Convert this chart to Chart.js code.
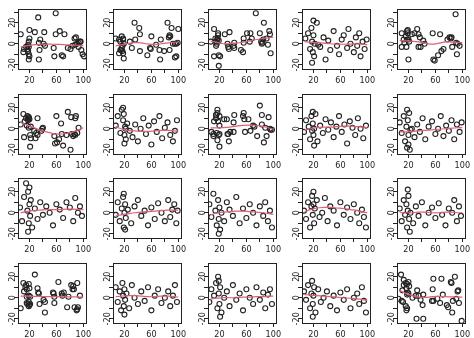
<!DOCTYPE html>
<html lang="en">
<head>
<meta charset="UTF-8">
<title>Scatter grid</title>
<script src="https://cdn.jsdelivr.net/npm/chart.js"></script>
<style>
  body { margin: 0; background: #fff; width: 474px; height: 338px; overflow: hidden; position: relative; }
  .panel { position: absolute; width: 95px; height: 85px; }
</style>
</head>
<body>
<div id="grid"></div>
<script>
// axis ticks (labels only where R keeps them)
const xTicks = [20, 40, 60, 80, 100];
const xLabels = [20, 60, 100];
const yTicks = [-20, -10, 0, 10, 20, 30];
const yLabels = [-20, 0, 20];
const smoothX = [7, 15, 25, 35, 45, 55, 65, 75, 85, 95, 100];

// row 1
const p1x = [7, 33, 59, 20, 28, 42, 65, 59, 72, 87, 89, 36, 34, 20, 19, 18, 19, 17, 15, 12, 11, 18, 19, 20, 19, 43, 41, 35, 34, 56, 57, 68, 70, 77, 81, 84, 88, 91, 93, 96, 93, 97, 99, 101, 95];
const p1y = [9, 25, 29, 13, 11, 11, 12, 9, 9, 5, 6, 4, 1, 5, 2, -1, -3, -5, -3, -5, -8, -7, -10, -12, -15, -2, 0, -6, -15, -4, -12, -11, -12, -4, -5, -2, -1, 0, 1, 2, -3, -6, -10, -12, 2];
const p1s = [-3, -2, -1, -0.5, -0.3, -0.5, -0.7, -1, -1.3, -1.6, -1.7];

const p2x = [7, 12, 14, 16, 18, 18, 19, 17, 16, 15, 14, 17, 18, 19, 12, 28, 35, 36, 31, 42, 43, 43, 54, 58, 60, 59, 67, 72, 73, 74, 79, 84, 86, 87, 88, 90, 87, 92, 95, 97, 97, 95, 100, 99];
const p2y = [5, 4, 2, 7, 4, 5, 0, -2, -4, -6, -6, -7, -9, -14, -9, 2, 20, 4, -4, 15, 9, -7, -11, -4, 7, -5, -1, -6, -15, 4, -7, 20, 6, 8, 7, 15, -6, 0, 0, -12, 0, -13, 14, 1];
const p2s = [-2, -1, 0.2, 1, 0.8, -0.3, -0.8, 0, 0.8, 1.4, 1.6];

const p3x = [7, 12, 12, 14, 15, 16, 17, 18, 18, 15, 19, 17, 19, 21, 19, 28, 32, 33, 34, 35, 41, 42, 42, 52, 55, 56, 56, 61, 66, 65, 68, 74, 80, 82, 83, 84, 85, 86, 90, 92, 94, 95, 96];
const p3y = [2, 14, -12, 5, 2, 0, 5, 10, 8, -2, 3, 4, -11, -12, -21, 9, 0, -3, -5, 11, -2, -4, 1, -6, -8, 1, 5, 10, 10, 2, 5, 29, 10, 2, 0, 1, 4, 20, 5, -1, 12, 9, -9];
const p3s = [2.5, 1.5, 0, 0, 0.5, 1.5, 2.8, 4, 5, 5.8, 6.2];

const p4x = [8, 12, 15, 17, 18, 19, 20, 21, 22, 25, 30, 35, 38, 42, 45, 50, 55, 58, 62, 65, 70, 72, 75, 80, 83, 85, 88, 90, 93, 96, 99, 18, 20, 27];
const p4y = [5, 10, -5, 15, 2, -8, 8, -12, 0, 20, -3, 6, -15, 3, -6, 12, -2, -10, 4, 8, -4, 14, 0, -8, 6, -2, 10, -12, 2, -5, 4, -18, 22, -1];
const p4s = [2, 1.5, 1, 0.5, 0, -0.3, -0.5, -0.3, 0, -0.5, -1];

const p5x = [10, 13, 10, 14, 16, 18, 19, 19, 18, 20, 21, 17, 20, 25, 29, 33, 35, 37, 35, 38, 42, 44, 56, 57, 59, 64, 67, 69, 72, 78, 81, 83, 84, 85, 90, 91, 93, 92, 96];
const p5y = [10, 4, -3, 1, 7, 12, 13, 10, 4, 4, 2, -3, -15, 9, 10, 14, 9, 6, -3, -3, 3, 0, 10, -15, -16, -11, 9, -7, -5, 4, 6, 5, 6, -3, 28, 1, 0, -10, -2];
const p5s = [3, 2.8, 2.4, 1.8, 0.5, -0.4, 0.5, 1.8, 1.6, 1.2, 1];

// row 2
const p6x = [7, 11, 15, 17, 19, 19, 20, 18, 13, 12, 21, 22, 21, 16, 19, 22, 27, 30, 32, 32, 29, 38, 39, 40, 57, 58, 61, 60, 64, 67, 68, 70, 75, 77, 82, 83, 85, 87, 88, 81, 88, 89, 91, 93];
const p6y = [4, 14, 10, 12, 11, 10, 9, 8, 7, -8, -6, -9, -17, 3, 1, 2, -2, -4, -6, 10, -9, -2, 0, 1, -7, -14, -13, 12, -10, 5, -5, -16, -6, 16, 11, -5, -7, -5, -6, -20, 10, 12, -4, 1];
const p6s = [6, 4, 1.5, -1, -3, -4.5, -5, -4.5, -3, -0.5, 1];

const p7x = [7, 10, 14, 16, 18, 19, 20, 21, 22, 24, 28, 32, 36, 40, 44, 48, 52, 56, 60, 64, 68, 72, 76, 80, 84, 88, 92, 95, 98, 18, 20, 22];
const p7y = [3, 12, -4, 18, 8, 14, -6, 2, -10, 5, -2, -8, 4, -12, 0, 10, -5, 3, -15, 7, -3, 12, -9, 1, 6, -6, -12, -2, 8, 20, -14, 0];
const p7s = [2, 0, -1.5, -2, -2.5, -2.5, -2, -1.5, -1.5, -2, -2.5];

const p8x = [8, 11, 11, 12, 15, 15, 17, 17, 15, 16, 17, 20, 19, 20, 18, 20, 20, 27, 31, 32, 33, 34, 36, 41, 42, 41, 55, 56, 57, 58, 63, 66, 70, 72, 76, 80, 83, 83, 86, 88, 90, 93, 95, 96, 98];
const p8y = [-3, -5, -7, 7, 13, 10, 15, 18, 13, -4, -11, -17, -6, -5, 7, 3, 12, 9, 9, -5, -5, -12, -3, -3, 13, 6, 12, 15, 9, -3, 9, -2, 3, 2, -7, 22, 13, 4, -13, 1, -7, 11, 0, -1, -1];
const p8s = [0.8, 0.8, 1, 1.5, 2.5, 3.2, 3.5, 3.3, 2.2, 0.5, -0.3];

const p9x = [6, 9, 13, 15, 17, 18, 19, 20, 21, 23, 26, 30, 34, 38, 42, 46, 50, 54, 58, 62, 66, 70, 74, 78, 82, 86, 90, 94, 98, 19, 21];
const p9y = [-3, 8, 2, -10, 12, -2, 5, -6, 0, 14, -12, 3, -4, 9, -1, 6, -8, 2, 12, -3, 4, -14, 7, 1, -6, 10, 0, -9, 3, 16, -16];
const p9s = [-1, 0, 1, 1.5, 1.5, 2, 2.5, 2.5, 2, 1.5, 1];

const p10x = [7, 10, 13, 15, 17, 18, 19, 20, 21, 22, 25, 29, 33, 37, 41, 45, 50, 55, 60, 64, 68, 72, 76, 80, 84, 88, 92, 96, 99, 18, 20, 23];
const p10y = [6, -4, 12, -12, 2, -18, 8, -6, 15, -20, 0, -8, 4, -3, 10, -10, 2, 7, -5, 0, 12, -7, 3, -2, 8, -10, 4, -3, 6, 18, -15, -1];
const p10s = [-3, -3, -2.5, -2, -1.5, -1, -0.5, 0, 0.5, 1, 1];

// row 3
const p11x = [6, 9, 12, 15, 17, 18, 19, 20, 21, 22, 24, 28, 32, 36, 40, 45, 50, 55, 60, 65, 70, 75, 80, 85, 88, 92, 95, 98, 18, 20];
const p11y = [5, -8, 15, 28, 2, 20, -10, 8, -3, 12, -14, 4, -6, 10, -2, 6, 0, -12, 8, 3, -5, 10, 5, -8, 14, 0, 6, -3, -18, 24];
const p11s = [0, 1, 2, 2.5, 3, 3, 3, 3.5, 3.5, 3, 3];

const p12x = [7, 10, 13, 16, 18, 19, 20, 21, 22, 25, 30, 35, 40, 45, 50, 55, 60, 65, 70, 75, 80, 85, 88, 91, 94, 97, 99, 19, 21];
const p12y = [-2, 10, -8, 4, 15, -14, 0, 8, -5, 3, -10, 6, 12, -3, 2, -12, 5, -6, 9, 0, -8, 12, -4, 3, 8, -10, 2, 18, -16];
const p12s = [-3, -2, -1, 0, 0.5, 1, 1.5, 2, 2.5, 2.5, 2.5];

const p13x = [5, 8, 11, 14, 16, 18, 19, 20, 21, 23, 27, 31, 35, 40, 45, 50, 55, 60, 65, 70, 75, 80, 85, 88, 92, 95, 98, 19];
const p13y = [8, -4, 18, 2, -12, 12, -6, 5, -16, 0, -8, 10, 3, -3, 15, -10, 4, -5, 8, 0, -12, 6, -3, 10, -8, 2, -14, -20];
const p13s = [-2, -0.5, 0.5, 1, 1.5, 1.5, 1, 0.5, 0, -1, -1.5];

const p14x = [6, 9, 12, 15, 17, 18, 19, 20, 21, 22, 25, 29, 33, 37, 41, 45, 50, 55, 60, 65, 70, 75, 80, 85, 88, 92, 95, 98, 20];
const p14y = [2, -6, 10, -14, 6, 16, -2, 8, -10, 4, 12, -4, 0, 14, -8, 6, 2, -12, 10, -2, 5, -6, 8, 0, -10, 3, -4, -14, 20];
const p14s = [1, 3, 4.5, 5, 5, 4.5, 4, 3, 2, 0.5, 0];

const p15x = [7, 10, 13, 15, 17, 18, 19, 20, 21, 23, 27, 31, 35, 40, 45, 50, 55, 60, 65, 70, 75, 80, 85, 88, 92, 95, 98, 19, 22];
const p15y = [4, -8, 12, -2, 8, -14, 2, 16, -6, 0, -10, 6, -3, 10, -12, 0, 5, -5, 9, -2, -12, 4, 0, 12, -8, 6, -3, 22, -18];
const p15s = [0, 0, 0, 0.5, 0.5, 0, 0, 0.5, 0.5, 0, 0];

// row 4
const p16x = [7, 11, 12, 14, 15, 16, 19, 20, 16, 19, 21, 16, 17, 19, 20, 21, 19, 28, 32, 33, 34, 35, 41, 43, 43, 55, 56, 57, 57, 63, 68, 71, 69, 76, 78, 82, 84, 85, 86, 87, 90, 91, 92, 91, 95];
const p16y = [-10, 14, 6, 10, 12, 8, 13, 9, 1, 2, 1, -5, -6, -4, -7, -6, -8, 22, 9, 5, 4, -6, -2, -4, -14, 5, 4, 1, -5, 15, 4, 5, 2, -9, 1, 12, 8, 11, 8, -9, -12, -11, -9, 14, 2];
const p16s = [1.5, 1.5, 1.3, 1.2, 1.1, 1, 1, 0.9, 0.8, 0.7, 0.6];

const p17x = [7, 10, 13, 15, 17, 18, 19, 20, 21, 23, 27, 31, 35, 40, 45, 50, 55, 60, 65, 70, 75, 80, 85, 88, 92, 95, 98, 20];
const p17y = [10, -4, 6, -12, 14, 2, -8, 8, -2, 4, -10, 12, 0, -6, 6, -3, 10, -12, 2, 8, -5, 0, 6, -8, 2, 12, -4, -16];
const p17s = [1, 1.5, 2, 2, 1.5, 1, 1, 1.5, 1.5, 1, 0.5];

const p18x = [5, 8, 12, 15, 17, 18, 19, 20, 21, 23, 27, 31, 35, 40, 45, 50, 55, 60, 65, 70, 75, 80, 85, 88, 92, 95, 98, 19, 21];
const p18y = [-4, 8, 2, 14, -10, 20, 4, -6, 10, -14, 0, 6, -8, 12, -2, 4, -12, 8, 0, -6, 10, -2, 5, -10, 3, 8, -6, 16, -18];
const p18s = [-1, -0.5, 0, 0, 0, 0.5, 0.5, 1, 1, 1.5, 1.5];

const p19x = [6, 9, 12, 15, 17, 18, 19, 20, 21, 23, 27, 31, 35, 40, 45, 50, 55, 60, 65, 70, 75, 80, 85, 88, 92, 95, 98, 19];
const p19y = [6, -2, 12, -10, 4, 16, -6, 2, 10, -14, 8, -4, 0, 6, -8, 2, -12, 5, -2, 8, -10, 0, 4, -6, 10, -3, -14, -18];
const p19s = [3, 2.5, 2, 1.5, 1, 0.5, 0, -0.5, -1, -2, -2.5];

const p20x = [5, 9, 11, 13, 16, 18, 20, 21, 17, 13, 10, 12, 16, 18, 17, 18, 19, 20, 26, 31, 33, 35, 32, 38, 41, 42, 42, 56, 57, 55, 57, 63, 67, 69, 71, 77, 79, 83, 84, 85, 86, 89, 91, 93, 94, 95, 99];
const p20y = [-1, 22, 7, 12, 14, 13, 15, 11, 9, 17, -3, -4, -8, -10, -12, 3, 5, 4, 0, 2, 7, 2, -20, -2, -7, -20, 3, 8, 18, -3, -3, -1, -5, 18, 3, -7, -9, 15, 14, -14, -3, 20, -1, 6, 7, -5, -22];
const p20s = [7, 4.5, 2, 0.5, 0.3, 1, 1.2, 1, 0.8, 0.6, 0.5];

const panels = [
  [p1x, p1y, p1s], [p2x, p2y, p2s], [p3x, p3y, p3s], [p4x, p4y, p4s], [p5x, p5y, p5s],
  [p6x, p6y, p6s], [p7x, p7y, p7s], [p8x, p8y, p8s], [p9x, p9y, p9s], [p10x, p10y, p10s],
  [p11x, p11y, p11s], [p12x, p12y, p12s], [p13x, p13y, p13s], [p14x, p14y, p14s], [p15x, p15y, p15s],
  [p16x, p16y, p16s], [p17x, p17y, p17s], [p18x, p18y, p18s], [p19x, p19y, p19s], [p20x, p20y, p20s]
];

const FONT = { family: "'Liberation Sans Narrow', 'DejaVu Sans Condensed', 'Liberation Sans', Arial, sans-serif", size: 9 };
const INK = '#222';

// R-style box around the plot region
const boxPlugin = {
  id: 'box',
  afterDraw(chart) {
    const { ctx, chartArea: a } = chart;
    ctx.save();
    ctx.strokeStyle = INK;
    ctx.lineWidth = 1;
    ctx.strokeRect(Math.round(a.left) + 0.5, Math.round(a.top) + 0.5,
      Math.round(a.right - a.left), Math.round(a.bottom - a.top));
    ctx.restore();
  }
};

const grid = document.getElementById('grid');

panels.forEach((p, i) => {
  const r = Math.floor(i / 5), c = i % 5;
  const div = document.createElement('div');
  div.className = 'panel';
  div.style.left = Math.round(c * 94.8) + 'px';
  div.style.top = Math.round(r * 84.5) + 'px';
  const cv = document.createElement('canvas');
  div.appendChild(cv);
  grid.appendChild(div);

  const [xs, ys, sm] = p;
  new Chart(cv, {
    data: {
      datasets: [
        {
          type: 'line',
          data: smoothX.map((x, k) => ({ x, y: sm[k] })),
          borderColor: '#e0607a',
          borderWidth: 1.2,
          pointRadius: 0,
          tension: 0.4,
          fill: false
        },
        {
          type: 'scatter',
          data: xs.map((x, k) => ({ x, y: ys[k] })),
          pointRadius: 2.5,
          borderWidth: 1.1,
          borderColor: INK,
          backgroundColor: 'rgba(0,0,0,0)'
        }
      ]
    },
    options: {
      responsive: true,
      maintainAspectRatio: false,
      animation: false,
      events: [],
      layout: { padding: { top: 9, right: 9, left: 0, bottom: 0 } },
      plugins: { legend: { display: false }, tooltip: { enabled: false } },
      scales: {
        x: {
          type: 'linear', min: 3, max: 104,
          afterBuildTicks: s => { s.ticks = xTicks.map(v => ({ value: v })); },
          afterFit: s => { s.height = 16; },
          grid: { drawOnChartArea: false, drawTicks: true, tickLength: 4, color: INK },
          border: { display: false },
          ticks: {
            autoSkip: false, maxRotation: 0, padding: 2, color: INK, font: FONT,
            callback: v => xLabels.includes(v) ? String(v) : ''
          }
        },
        y: {
          type: 'linear', min: -24, max: 33,
          afterBuildTicks: s => { s.ticks = yTicks.map(v => ({ value: v })); },
          afterFit: s => { s.width = 18; },
          grid: { drawOnChartArea: false, drawTicks: true, tickLength: 4, color: INK },
          border: { display: false },
          ticks: {
            autoSkip: false, minRotation: 90, maxRotation: 90, crossAlign: 'center', padding: -5.5,
            color: INK, font: FONT,
            callback: v => yLabels.includes(v) ? String(v) : ''
          }
        }
      }
    },
    plugins: [boxPlugin]
  });
});
</script>
</body>
</html>
